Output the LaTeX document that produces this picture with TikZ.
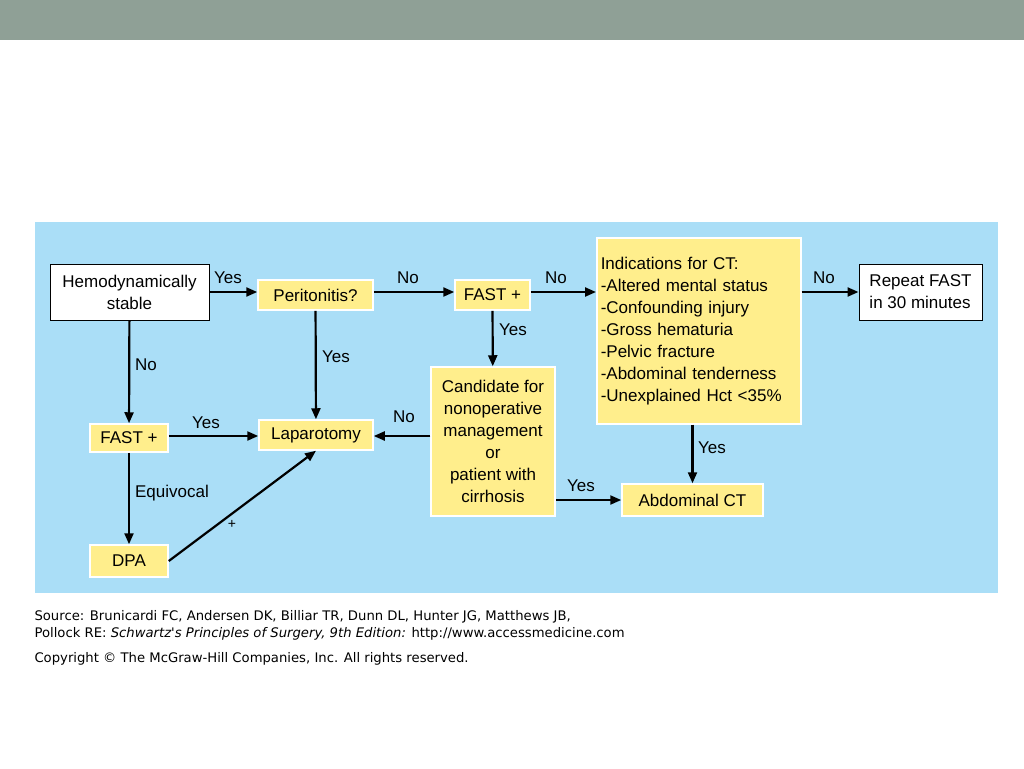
\documentclass[tikz,border=0pt]{standalone}
\usepackage{fontspec}
\setmainfont{Liberation Sans}
\newfontfamily\srcfont{DejaVu Sans}
\usetikzlibrary{arrows.meta}
\definecolor{bar}{RGB}{143,160,150}
\definecolor{panel}{RGB}{170,222,247}
\definecolor{ybox}{RGB}{255,238,140}
\begin{document}
\begin{tikzpicture}[x=1pt,y=-1pt,
  box/.style={draw=white,line width=1.5pt,fill=ybox,inner sep=0pt,align=center,font=\fontsize{17}{22}\selectfont},
  wbox/.style={box,draw=black,fill=white,line width=1pt},
  arr/.style={line width=2.2pt,-{Triangle[length=11pt,width=9pt]}},
  lab/.style={font=\fontsize{17}{18}\selectfont},
  src/.style={anchor=west,font=\srcfont\fontsize{13.2}{14}\selectfont}]
\useasboundingbox (0,0) rectangle (1024,768);
\fill[bar] (0,0) rectangle (1024,40);
\fill[panel] (35,222) rectangle (998,593);
% nodes
\node[wbox,minimum width=159,minimum height=56] (hemo) at (129.5,292) {Hemodynamically\\stable};
\node[box,minimum width=115,minimum height=30] (per) at (315.5,295) {Peritonitis?};
\node[box,minimum width=75,minimum height=30] (fast1) at (492.5,295) {FAST +};
\node[box,text width=196,inner xsep=4,minimum height=186,align=left,anchor=north west] (ind) at (596,237)
  {Indications for CT:\\-Altered mental status\\-Confounding injury\\-Gross hematuria\\-Pelvic fracture\\-Abdominal tenderness\\-Unexplained Hct {<}35\%};
\node[wbox,minimum width=123,minimum height=56,align=left] (rep) at (920.5,292) {Repeat FAST\\in 30 minutes};
\node[box,minimum width=78,minimum height=28] (fast2) at (129,438) {FAST +};
\node[box,minimum width=114,minimum height=30] (lap) at (316,435) {Laparotomy};
\node[box,minimum width=124,minimum height=149] (cand) at (493,441.5) {Candidate for\\nonoperative\\management\\or\\patient with\\cirrhosis};
\node[box,minimum width=141,minimum height=32] (ct) at (692.5,500) {Abdominal CT};
\node[box,minimum width=78,minimum height=32] (dpa) at (129,561) {DPA};
% connectors
\draw[arr] (hemo.east|-0,292) -- (per.west|-0,292);
\node[lab] at (228,278) {Yes};
\draw[arr] (per.east|-0,292) -- (fast1.west|-0,292);
\node[lab] at (408,278) {No};
\draw[arr] (fast1.east|-0,292) -- (ind.west|-0,292);
\node[lab] at (556,278) {No};
\draw[arr] (ind.east|-0,292) -- (rep.west|-0,292);
\node[lab] at (824,278) {No};
\draw[arr] (hemo) -- (fast2);
\node[lab] at (146,365) {No};
\draw[arr] (per) -- (lap);
\node[lab] at (336,357) {Yes};
\draw[arr] (fast1) -- (cand);
\node[lab] at (513,330) {Yes};
\draw[arr] (fast2.east|-0,436) -- (lap.west|-0,436);
\node[lab] at (206,423) {Yes};
\draw[arr] (cand.west|-0,436) -- (lap.east|-0,436);
\node[lab] at (404,417) {No};
\draw[arr] (fast2) -- (dpa);
\node[lab] at (172,493) {Equivocal};
\draw[arr] (dpa.east) -- (lap.south);
\node[font=\fontsize{14}{14}\selectfont] at (232,524) {+};
\draw[arr] (cand.east|-0,500) -- (ct.west);
\node[lab] at (581,486) {Yes};
\draw[arr] (ind.south-|ct) -- (ct.north);
\node[lab] at (712,448) {Yes};
% source
\node[src] at (31,617) {Source: Brunicardi FC, Andersen DK, Billiar TR, Dunn DL, Hunter JG, Matthews JB,};
\node[src] at (31,634) {Pollock RE: \textit{Schwartz's Principles of Surgery, 9th Edition:} http://www.accessmedicine.com};
\node[src] at (31,659) {Copyright © The McGraw-Hill Companies, Inc. All rights reserved.};
\end{tikzpicture}
\end{document}
